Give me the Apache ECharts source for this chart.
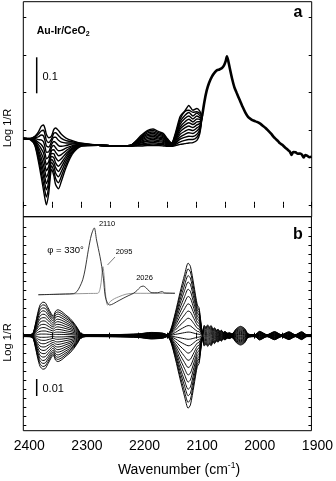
<!DOCTYPE html>
<html><head><meta charset="utf-8">
<script src="https://cdn.jsdelivr.net/npm/echarts@6/dist/echarts.min.js"></script>
<style>html,body{margin:0;padding:0;background:#fff}#c{width:336px;height:481px}</style>
</head><body><div id="c"></div>
<script>
// ---------- tick labels ----------
const xTickLabels = [2400, 2300, 2200, 2100, 2000, 1900];
const yTicksA = [0, 10, 20, 30, 40, 50];
const yTicksB = [-50,-45,-40,-35,-30,-25,-20,-15,-10,-5,0,5,10,15,20,25,30,35,40,45,50,55,60];

// ---------- panel a: family of spectra (2400-2090 cm-1), units 0.01 log 1/R ----------
const wnA = [2400,2388,2380,2374,2369,2365,2362,2360,2356,2351,2347,2344,2339,2334,2326,2315,2300,2270,2240,2215,2205,2195,2185,2175,2165,2157,2150,2143,2136,2128,2120,2113,2106,2099,2094,2090];
const curvesA = [
 [17.7,17.7,18.3,19.4,20.9,21.3,20.1,18.8,17.9,18.4,20.1,20.5,19.8,18.8,17.8,17.1,16.4,15.9,15.7,15.6,15.7,15.7,15.8,15.8,15.8,15.7,15.6,15.6,15.8,16.1,16.3,16.5,16.6,17.2,19.0,23.6],
 [17.7,17.7,18.1,18.8,19.7,19.9,18.5,17.2,16.6,17.6,19.1,19.2,18.5,17.7,17.1,16.8,16.4,15.9,15.7,15.6,15.8,16.0,16.1,16.2,16.1,16.0,15.8,15.7,16.1,16.8,17.2,17.4,17.4,18.0,19.5,23.6],
 [17.7,17.6,17.9,18.1,18.6,18.4,16.9,15.7,15.4,16.9,18.0,18.0,17.2,16.7,16.5,16.5,16.3,15.9,15.7,15.7,15.9,16.2,16.5,16.6,16.4,16.3,16.0,15.7,16.4,17.5,18.0,18.3,18.2,18.8,20.1,23.6],
 [17.7,17.6,17.7,17.4,17.3,16.8,15.2,14.0,14.1,16.1,16.9,16.6,15.8,15.6,15.8,16.2,16.2,15.9,15.7,15.7,16.1,16.5,16.9,17.0,16.8,16.6,16.2,15.8,16.7,18.1,18.8,19.2,19.0,19.7,20.6,23.6],
 [17.7,17.6,17.4,16.7,16.1,15.2,13.5,12.3,12.8,15.3,15.8,15.2,14.4,14.5,15.1,15.8,16.1,15.9,15.7,15.7,16.2,16.7,17.2,17.4,17.1,16.9,16.4,15.9,17.0,18.8,19.6,20.1,19.8,20.5,21.1,23.6],
 [17.7,17.6,17.2,16.1,15.0,13.8,11.9,10.7,11.5,14.5,14.7,14.0,13.1,13.4,14.4,15.5,16.1,15.9,15.7,15.7,16.3,17.0,17.6,17.8,17.5,17.2,16.5,16.0,17.4,19.5,20.5,21.0,20.6,21.3,21.7,23.6],
 [17.7,17.5,17.0,15.4,13.8,12.2,10.3,9.1,10.2,13.7,13.6,12.6,11.7,12.3,13.7,15.2,16.0,15.9,15.7,15.7,16.4,17.3,18.0,18.2,17.8,17.5,16.7,16.1,17.7,20.2,21.3,21.9,21.4,22.1,22.2,23.6],
 [17.7,17.5,16.8,14.7,12.6,10.6,8.6,7.4,8.9,12.9,12.5,11.2,10.3,11.2,13.0,14.9,15.9,15.9,15.7,15.8,16.5,17.5,18.4,18.6,18.1,17.8,16.9,16.2,18.0,20.8,22.1,22.8,22.1,22.9,22.8,23.6],
 [17.7,17.5,16.5,14.0,11.4,9.0,6.9,5.7,7.6,12.1,11.3,9.9,8.9,10.1,12.3,14.6,15.9,15.9,15.7,15.8,16.7,17.8,18.7,19.0,18.5,18.1,17.1,16.3,18.3,21.5,23.0,23.7,22.9,23.7,23.3,23.6],
 [17.7,17.5,16.3,13.3,10.2,7.5,5.2,4.0,6.2,11.3,10.2,8.5,7.5,8.9,11.6,14.2,15.8,15.9,15.7,15.8,16.8,18.0,19.1,19.4,18.8,18.4,17.3,16.3,18.6,22.2,23.8,24.6,23.7,24.5,23.8,23.6],
 [17.7,17.5,16.0,12.5,8.8,5.7,3.3,2.1,4.7,10.4,8.9,7.0,5.9,7.6,10.7,13.9,15.7,15.9,15.7,15.8,16.9,18.3,19.5,19.8,19.2,18.7,17.4,16.4,18.9,22.9,24.9,25.2,24.7,24.8,24.4,23.6],
 [17.7,17.4,15.8,11.7,7.5,3.9,1.3,0.0,3.0,9.4,7.7,5.4,4.3,6.3,9.9,13.5,15.6,15.9,15.7,15.8,17.0,18.6,19.8,20.2,19.5,19.0,17.6,16.5,19.3,23.6,25.0,26.5,25.2,25.7,25.0,23.6]
];
// panel a: common part where all spectra overlap (2090-1900 cm-1)
const wnCommonA = [2090,2086,2082,2078,2073,2068,2064,2060,2056,2052,2049,2047,2045,2042,2038,2034,2030,2025,2020,2015,2010,2005,2000,1995,1990,1985,1980,1975,1970,1966,1962,1958,1955,1951,1947,1944,1941,1938,1935,1932,1928,1924,1920,1917,1914,1911,1907,1904,1900];
const commonA = [23.6,27.5,30.5,32.5,34.2,35.3,35.9,36.1,36.4,37.2,38.4,39.6,38.6,36.4,33.6,31.3,29.8,28.0,26.2,24.6,23.4,22.8,22.4,22.1,21.7,21.1,20.5,19.7,18.9,18.1,17.5,16.9,16.4,16.0,15.4,15.0,14.6,14.2,13.3,14.1,14.0,13.6,13.7,13.4,12.6,13.3,13.0,12.7,12.8];

// ---------- panel b: phase-resolved spectra (positive half), units 0.001 log 1/R ----------
const wnB = [2400,2388,2383,2379,2375,2371,2366,2362,2357,2352,2348,2344,2340,2333,2326,2319,2312,2306,2300,2290,2240,2200,2178,2158,2150,2144,2136,2128,2120,2114,2110,2104,2098,2095,2092,2089,2086,2083,2080,2077,2074,2071,2068,2065,2062,2059,2056,2053,2050,2046,2042,2038,2030,2023,2016,2010,1998,1990,1977,1964,1952,1939,1928,1917,1908,1900];
const curvesB = [
 [0.5,0.6,1.5,6.5,12.5,17.0,18.6,18.3,15.5,12.5,10.8,13.6,14.4,13.3,11.4,9.6,7.0,4.2,1.2,0.5,0.6,1.0,1.8,1.4,0.5,3.5,13.0,24.0,34.0,40.3,38.5,28.0,17.0,15.5,8.0,1.5,5.8,4.6,6.0,4.8,5.6,3.6,4.4,3.0,3.6,2.4,3.0,1.8,2.4,1.4,1.6,1.0,4.0,5.2,4.0,1.0,0.5,2.4,0.5,2.3,0.5,2.2,0.5,2.2,0.5,0.5],
 [0.5,0.6,1.4,6.0,11.5,15.6,17.1,16.8,14.3,11.5,9.9,12.5,13.2,12.2,10.5,8.8,6.4,3.9,1.1,0.5,0.6,0.9,1.7,1.3,0.5,3.2,12.0,22.1,31.3,37.1,35.4,25.8,15.6,14.3,7.4,1.4,5.3,4.2,5.5,4.4,5.2,3.3,4.0,2.8,3.3,2.2,2.8,1.7,2.2,1.3,1.5,0.9,3.7,4.8,3.7,0.9,0.5,2.2,0.5,2.1,0.5,2.0,0.5,2.0,0.5,0.5],
 [0.4,0.5,1.2,5.4,10.4,14.1,15.4,15.2,12.9,10.4,9.0,11.3,12.0,11.0,9.5,8.0,5.8,3.5,1.0,0.4,0.5,0.8,1.5,1.2,0.4,2.9,10.8,19.9,28.2,33.4,32.0,23.2,14.1,12.9,6.6,1.2,4.8,3.8,5.0,4.0,4.6,3.0,3.7,2.5,3.0,2.0,2.5,1.5,2.0,1.2,1.3,0.8,3.3,4.3,3.3,0.8,0.4,2.0,0.4,1.9,0.4,1.8,0.4,1.8,0.4,0.4],
 [0.4,0.4,1.1,4.8,9.3,12.6,13.8,13.5,11.5,9.3,8.0,10.1,10.7,9.8,8.4,7.1,5.2,3.1,0.9,0.4,0.4,0.7,1.3,1.0,0.4,2.6,9.6,17.8,25.2,29.8,28.5,20.7,12.6,11.5,5.9,1.1,4.3,3.4,4.4,3.6,4.1,2.7,3.3,2.2,2.7,1.8,2.2,1.3,1.8,1.0,1.2,0.7,3.0,3.8,3.0,0.7,0.4,1.8,0.4,1.7,0.4,1.6,0.4,1.6,0.4,0.4],
 [0.3,0.4,1.0,4.2,8.0,10.9,11.9,11.7,9.9,8.0,6.9,8.7,9.2,8.5,7.3,6.1,4.5,2.7,0.8,0.3,0.4,0.6,1.2,0.9,0.3,2.2,8.3,15.4,21.8,25.8,24.6,17.9,10.9,9.9,5.1,1.0,3.7,2.9,3.8,3.1,3.6,2.3,2.8,1.9,2.3,1.5,1.9,1.2,1.5,0.9,1.0,0.6,2.6,3.3,2.6,0.6,0.3,1.5,0.3,1.5,0.3,1.4,0.3,1.4,0.3,0.3],
 [0.3,0.3,0.8,3.5,6.8,9.2,10.0,9.9,8.4,6.8,5.8,7.3,7.8,7.2,6.2,5.2,3.8,2.3,0.6,0.3,0.3,0.5,1.0,0.8,0.3,1.9,7.0,13.0,18.4,21.8,20.8,15.1,9.2,8.4,4.3,0.8,3.1,2.5,3.2,2.6,3.0,1.9,2.4,1.6,1.9,1.3,1.6,1.0,1.3,0.8,0.9,0.5,2.2,2.8,2.2,0.5,0.3,1.3,0.3,1.2,0.3,1.2,0.3,1.2,0.3,0.3],
 [0.2,0.3,0.7,2.9,5.5,7.5,8.2,8.1,6.8,5.5,4.8,6.0,6.3,5.9,5.0,4.2,3.1,1.8,0.5,0.2,0.3,0.4,0.8,0.6,0.2,1.5,5.7,10.6,15.0,17.7,16.9,12.3,7.5,6.8,3.5,0.7,2.6,2.0,2.6,2.1,2.5,1.6,1.9,1.3,1.6,1.1,1.3,0.8,1.1,0.6,0.7,0.4,1.8,2.3,1.8,0.4,0.2,1.1,0.2,1.0,0.2,1.0,0.2,1.0,0.2,0.2],
 [0.2,0.2,0.5,2.2,4.3,5.8,6.3,6.2,5.3,4.3,3.7,4.6,4.9,4.5,3.9,3.3,2.4,1.4,0.4,0.2,0.2,0.3,0.6,0.5,0.2,1.2,4.4,8.2,11.6,13.7,13.1,9.5,5.8,5.3,2.7,0.5,2.0,1.6,2.0,1.6,1.9,1.2,1.5,1.0,1.2,0.8,1.0,0.6,0.8,0.5,0.5,0.3,1.4,1.8,1.4,0.3,0.2,0.8,0.2,0.8,0.2,0.7,0.2,0.7,0.2,0.2],
 [0.1,0.1,0.4,1.6,3.0,4.1,4.5,4.4,3.7,3.0,2.6,3.3,3.5,3.2,2.7,2.3,1.7,1.0,0.3,0.1,0.1,0.2,0.4,0.3,0.1,0.8,3.1,5.8,8.2,9.7,9.2,6.7,4.1,3.7,1.9,0.4,1.4,1.1,1.4,1.2,1.3,0.9,1.1,0.7,0.9,0.6,0.7,0.4,0.6,0.3,0.4,0.2,1.0,1.2,1.0,0.2,0.1,0.6,0.1,0.6,0.1,0.5,0.1,0.5,0.1,0.1],
 [0.1,0.1,0.2,0.9,1.8,2.4,2.6,2.6,2.2,1.8,1.5,1.9,2.0,1.9,1.6,1.3,1.0,0.6,0.2,0.1,0.1,0.1,0.3,0.2,0.1,0.5,1.8,3.4,4.8,5.6,5.4,3.9,2.4,2.2,1.1,0.2,0.8,0.6,0.8,0.7,0.8,0.5,0.6,0.4,0.5,0.3,0.4,0.3,0.3,0.2,0.2,0.1,0.6,0.7,0.6,0.1,0.1,0.3,0.1,0.3,0.1,0.3,0.1,0.3,0.1,0.1],
 [0.0,0.0,0.1,0.3,0.6,0.9,0.9,0.9,0.8,0.6,0.5,0.7,0.7,0.7,0.6,0.5,0.4,0.2,0.1,0.0,0.0,0.1,0.1,0.1,0.0,0.2,0.7,1.2,1.7,2.0,1.9,1.4,0.9,0.8,0.4,0.1,0.3,0.2,0.3,0.2,0.3,0.2,0.2,0.2,0.2,0.1,0.2,0.1,0.1,0.1,0.1,0.1,0.2,0.3,0.2,0.1,0.0,0.1,0.0,0.1,0.0,0.1,0.0,0.1,0.0,0.0]
];

// ---------- inset (phi = 330 deg) ----------
const wnInset = [2207,2180,2160,2146,2140,2135,2130,2126,2120,2115,2110,2106,2100,2097,2094,2091,2087,2083,2077,2071,2060,2050,2042,2036,2030,2025,2020,2014,2010,2000,1995,1992,1988,1980,1970];
const insetBlack = [-0.8,-0.6,-0.4,-0.2,1.0,3.7,7.5,13.0,24.5,32.4,36.3,29.6,20.3,14.8,8.0,-1.5,-5.5,-6.5,-5.8,-4.7,-2.8,-1.2,0.0,1.5,3.5,4.0,3.0,1.0,0.3,0.3,0.8,0.9,0.2,0.1,0.0];
const wnInsetGray = [2207,2160,2120,2104,2099,2096,2095,2093,2090,2087,2082,2075,2068,2055,2040,2000,1970];
const insetGray = [-0.8,-0.4,-0.1,0.0,4.0,13.0,14.8,10.0,-2.0,-6.5,-4.5,-3.0,-2.0,-0.5,0.0,0.0,0.0];

// ---------- build chart ----------
const FONT = 'Liberation Sans, Arial, sans-serif';
const pairs = (xs, ys) => xs.map((x, i) => [x, ys[i]]);
const chart = echarts.init(document.getElementById('c'), null, {renderer: 'canvas'});

const GL = 23.3, GW = 288.4;
const tickStyle = {show: true, inside: true, length: 3, lineStyle: {color: '#000', width: 1}};
function xAx(grid, pos, labels) {
  return {type: 'value', gridIndex: grid, position: pos, min: 1900, max: 2400, interval: 50, inverse: true,
    axisLine: {show: false}, splitLine: {show: false}, axisTick: tickStyle,
    axisLabel: labels ? {show: true, color: '#000', fontSize: 14, fontFamily: FONT, margin: 8, padding: [0, 0, 0, 12],
      formatter: v => (xTickLabels.indexOf(v) >= 0 ? String(v) : '')} : {show: false}};
}
function yAx(grid, pos, min, max, ticks) {
  return {type: 'value', gridIndex: grid, position: pos, min: min, max: max,
    axisLine: {show: false}, splitLine: {show: false},
    axisTick: Object.assign({customValues: ticks}, tickStyle), axisLabel: {show: false}};
}

const series = [];
curvesA.forEach((c) => series.push({type: 'line', xAxisIndex: 0, yAxisIndex: 0, data: pairs(wnA, c),
  symbol: 'none', smooth: 0.25, silent: true, lineStyle: {color: '#000', width: 1.4}}));
series.push({type: 'line', xAxisIndex: 0, yAxisIndex: 0, data: pairs(wnCommonA, commonA),
  symbol: 'none', smooth: 0.2, silent: true, lineStyle: {color: '#000', width: 2.6}});
curvesB.forEach((c) => {
  series.push({type: 'line', xAxisIndex: 2, yAxisIndex: 2, data: pairs(wnB, c),
    symbol: 'none', smooth: 0.25, silent: true, lineStyle: {color: '#000', width: 0.95}});
  // mirrored half drawn on the inverted twin axis
  series.push({type: 'line', xAxisIndex: 2, yAxisIndex: 4, data: pairs(wnB, c),
    symbol: 'none', smooth: 0.25, silent: true, lineStyle: {color: '#000', width: 0.95}});
});
series.push({type: 'line', xAxisIndex: 4, yAxisIndex: 5, data: pairs(wnInsetGray, insetGray),
  symbol: 'none', smooth: 0.3, silent: true, lineStyle: {color: '#8a8a8a', width: 0.9}});
series.push({type: 'line', xAxisIndex: 4, yAxisIndex: 5, data: pairs(wnInset, insetBlack),
  symbol: 'none', smooth: 0.3, silent: true, lineStyle: {color: '#222', width: 0.9}});

const txt = (x, y, text, extra) => ({type: 'text', x: x, y: y, silent: true, z: 100,
  style: Object.assign({text: text, fill: '#000', font: '11px ' + FONT, textAlign: 'left', textVerticalAlign: 'middle'}, extra || {})});

chart.setOption({
  animation: false,
  backgroundColor: '#fff',
  grid: [
    {left: GL, top: 1.7, width: GW, height: 215, show: true, borderColor: '#000', borderWidth: 1, backgroundColor: 'transparent'},
    {left: GL, top: 216.7, width: GW, height: 214, show: true, borderColor: '#000', borderWidth: 1, backgroundColor: 'transparent'},
    {left: 38.3, top: 221.3, width: 136.7, height: 90, show: false}
  ],
  xAxis: [
    xAx(0, 'bottom', false), xAx(0, 'top', false), xAx(1, 'bottom', true), xAx(1, 'top', false),
    {type: 'value', gridIndex: 2, min: 1970, max: 2207, inverse: true, show: false}
  ],
  yAxis: [
    yAx(0, 'left', -3.17, 54.16, yTicksA), yAx(0, 'right', -3.17, 54.16, yTicksA),
    yAx(1, 'left', -52.8, 66.1, yTicksB), yAx(1, 'right', -52.8, 66.1, yTicksB),
    {type: 'value', gridIndex: 1, min: -66.1, max: 52.8, inverse: true, show: false},
    {type: 'value', gridIndex: 2, min: -10, max: 40, show: false}
  ],
  series: series,
  graphic: [
    txt(36.7, 31, '{b|Au-Ir/CeO}{s|2}', {rich: {b: {font: 'bold 10.5px ' + FONT, fill: '#000'}, s: {font: 'bold 7px ' + FONT, fill: '#000', padding: [6, 0, 0, 0]}}}),
    {type: 'line', silent: true, shape: {x1: 36.7, y1: 57.3, x2: 36.7, y2: 93.3}, style: {stroke: '#000', lineWidth: 1.5}},
    txt(42.5, 77, '0.1', {font: '11px ' + FONT}),
    txt(298, 13, 'a', {font: 'bold 16px ' + FONT, textAlign: 'center'}),
    txt(298, 235, 'b', {font: 'bold 16px ' + FONT, textAlign: 'center'}),
    {type: 'line', silent: true, shape: {x1: 36.7, y1: 379, x2: 36.7, y2: 396}, style: {stroke: '#000', lineWidth: 1.5}},
    txt(42.5, 389, '0.01', {font: '11px ' + FONT}),
    txt(107, 224, '2110', {font: '7.5px ' + FONT, textAlign: 'center'}),
    txt(124, 251.5, '2095', {font: '7.5px ' + FONT, textAlign: 'center'}),
    txt(144.5, 278, '2026', {font: '7.5px ' + FONT, textAlign: 'center'}),
    txt(65.5, 250, 'φ = 330°', {font: '9.5px ' + FONT, textAlign: 'center'}),
    {type: 'line', silent: true, shape: {x1: 107.5, y1: 265, x2: 115, y2: 257}, style: {stroke: '#444', lineWidth: 0.7}},
    Object.assign(txt(7.5, 128, 'Log 1/R', {font: '11px ' + FONT, textAlign: 'center'}), {rotation: Math.PI / 2}),
    Object.assign(txt(7.5, 342.5, 'Log 1/R', {font: '11px ' + FONT, textAlign: 'center'}), {rotation: Math.PI / 2}),
    txt(179, 470, '{n|Wavenumber (cm}{s|-1}{n|)}', {textAlign: 'center',
      rich: {n: {font: '14px ' + FONT, fill: '#000'}, s: {font: '8.5px ' + FONT, fill: '#000', padding: [0, 0, 8, 0]}}})
  ]
});
</script></body></html>
